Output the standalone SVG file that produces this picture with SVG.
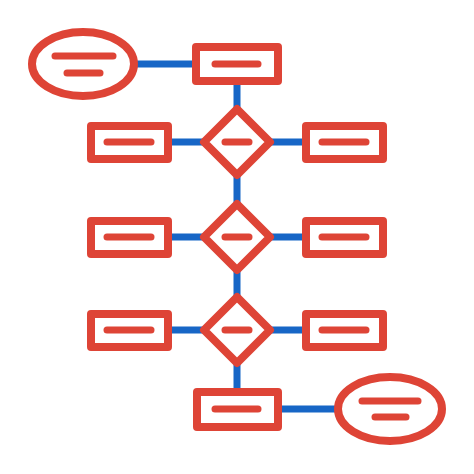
<svg xmlns="http://www.w3.org/2000/svg" width="474" height="474" viewBox="0 0 474 474">
<style>
.n{fill:#fff;stroke:#DE4436;stroke-width:8;stroke-linejoin:round}
.l{stroke:#DE4436;stroke-width:7;stroke-linecap:round;fill:none}
.c{stroke:#1766C6;stroke-width:7;fill:none}
</style>
<rect width="474" height="474" fill="#fff"/>
<g id="connectors">
<line class="c" x1="237" y1="80" x2="237" y2="392"/>
<line class="c" x1="136" y1="64" x2="196" y2="64"/>
<line class="c" x1="168" y1="142" x2="306" y2="142"/>
<line class="c" x1="168" y1="237" x2="306" y2="237"/>
<line class="c" x1="168" y1="330" x2="306" y2="330"/>
<line class="c" x1="278" y1="409" x2="340" y2="409"/>
</g>
<g id="start">
<ellipse class="n" cx="83" cy="64" rx="51" ry="32"/>
<line class="l" x1="55" y1="56" x2="113" y2="56"/>
<line class="l" x1="67" y1="73" x2="100" y2="73"/>
</g>
<g id="top">
<rect class="n" x="196" y="47" width="82" height="34"/>
<line class="l" x1="215" y1="64" x2="258" y2="64"/>
</g>
<g id="d1">
<polygon class="n" points="237,109 270,142 237,175 204,142"/>
<line class="l" x1="225" y1="142" x2="249" y2="142"/>
</g>
<g id="l1">
<rect class="n" x="91" y="126" width="77" height="33"/>
<line class="l" x1="107" y1="142" x2="151" y2="142"/>
</g>
<g id="r1">
<rect class="n" x="306" y="126" width="77" height="33"/>
<line class="l" x1="322" y1="142" x2="366" y2="142"/>
</g>
<g id="d2">
<polygon class="n" points="237,204 270,237 237,270 204,237"/>
<line class="l" x1="225" y1="237" x2="249" y2="237"/>
</g>
<g id="l2">
<rect class="n" x="91" y="221" width="77" height="33"/>
<line class="l" x1="107" y1="237" x2="151" y2="237"/>
</g>
<g id="r2">
<rect class="n" x="306" y="221" width="77" height="33"/>
<line class="l" x1="322" y1="237" x2="366" y2="237"/>
</g>
<g id="d3">
<polygon class="n" points="237,297 270,330 237,363 204,330"/>
<line class="l" x1="225" y1="330" x2="249" y2="330"/>
</g>
<g id="l3">
<rect class="n" x="91" y="314" width="77" height="33"/>
<line class="l" x1="107" y1="330" x2="151" y2="330"/>
</g>
<g id="r3">
<rect class="n" x="306" y="314" width="77" height="33"/>
<line class="l" x1="322" y1="330" x2="366" y2="330"/>
</g>
<g id="bottom">
<rect class="n" x="197" y="392" width="81" height="35"/>
<line class="l" x1="215" y1="409" x2="258" y2="409"/>
</g>
<g id="end">
<ellipse class="n" cx="390" cy="409" rx="52" ry="32"/>
<line class="l" x1="362" y1="401" x2="418" y2="401"/>
<line class="l" x1="375" y1="417" x2="406" y2="417"/>
</g>
</svg>
